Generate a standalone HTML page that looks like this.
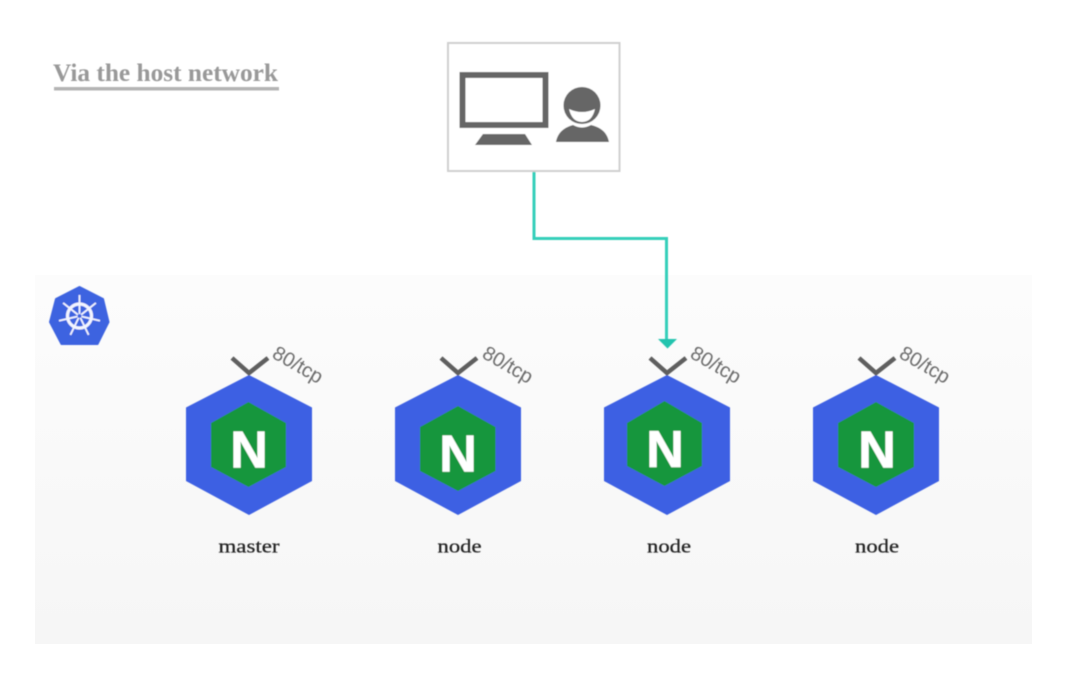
<!DOCTYPE html>
<html>
<head>
<meta charset="utf-8">
<style>
html,body{margin:0;padding:0;background:#fff;width:1080px;height:675px;overflow:hidden}
svg{display:block}
.n{font-family:"Liberation Sans",sans-serif;font-weight:bold;font-size:52px;fill:#fff;stroke:#fff;stroke-width:.6px}
.p{font-family:"Liberation Sans",sans-serif;font-size:20px;fill:#6d6d6d}
.l{font-family:"Liberation Serif",serif;font-size:19px;fill:#222;stroke:#222;stroke-width:.25px}
</style>
</head>
<body>
<svg width="1080" height="675" viewBox="0 0 1080 675" xmlns="http://www.w3.org/2000/svg">
<defs>
<linearGradient id="bg" x1="0" y1="0" x2="0" y2="1">
<stop offset="0" stop-color="#fcfcfc"/>
<stop offset="1" stop-color="#f6f6f6"/>
</linearGradient>
<filter id="b" x="-5%" y="-5%" width="110%" height="110%"><feGaussianBlur stdDeviation="0.45"/></filter>
</defs>
<rect x="35" y="275" width="997" height="369" fill="url(#bg)"/>
<g filter="url(#b)">
<text x="53" y="81" font-family="'Liberation Serif',serif" font-size="25" fill="#999" font-weight="bold" textLength="225" lengthAdjust="spacingAndGlyphs">Via the host network</text>
<rect x="54" y="87" width="225" height="3.5" fill="#b4b4b4"/>

<rect x="448" y="43" width="171.500" height="128" fill="#fff" stroke="#cfcfcf" stroke-width="2"/>
<rect x="462.500" y="75" width="83" height="50" fill="#fff" stroke="#666" stroke-width="6"/>
<polygon points="483,134 525,134 532,145 475,145" fill="#666"/>
<circle cx="582" cy="105.500" r="18.500" fill="#666"/>
<path d="M569,109 Q582,115 595,109 Q592,122 582,122 Q572,122 569,109Z" fill="#fff"/>
<path d="M556,142 C558,131 566,127 573,125 Q582,130 591,125 C599,127 607,131 609,142Z" fill="#666"/>

<polyline points="534,172 534,238.500 666.500,238.500 666.500,340" fill="none" stroke="#35cfba" stroke-width="3"/>
<polygon points="658,339 677,339 667.500,348.500" fill="#20c4ae"/>

<polygon points="79.500,287 103,299 108.500,322 97.500,344 61.500,344 50,322 56,299" fill="#3d63e0" stroke="#3d63e0" stroke-width="2" stroke-linejoin="round"/>
<g stroke="#f3f5ff" fill="none">
<circle cx="79.500" cy="316" r="12" stroke-width="3.200"/>
<g stroke-width="1.800">
<line x1="79.500" y1="316" x2="79.500" y2="295"/>
<line x1="79.500" y1="316" x2="95.900" y2="302.900"/>
<line x1="79.500" y1="316" x2="100" y2="320.700"/>
<line x1="79.500" y1="316" x2="88.600" y2="334.900"/>
<line x1="79.500" y1="316" x2="70.400" y2="334.900"/>
<line x1="79.500" y1="316" x2="59" y2="320.700"/>
<line x1="79.500" y1="316" x2="63.100" y2="302.900"/>
</g>
</g>
<circle cx="79.500" cy="316" r="2" fill="#3d63e0"/>

<!-- node 1 -->
<polygon points="249,375 312,407.500 312,481 249,515 186,481 186,407.500" fill="#3d60e3"/>
<polygon points="248.500,402 286,423 286,467 248.500,487 211,467 211,423" fill="#18963e"/>
<polyline points="232,358 249,373 268,358" fill="none" stroke="#5f5f5f" stroke-width="4.500"/>
<text class="n" x="249" y="467.500" text-anchor="middle">N</text>
<text class="p" transform="translate(271,357) rotate(30)">80/tcp</text>
<text class="l" x="249" y="552.500" text-anchor="middle" textLength="61" lengthAdjust="spacingAndGlyphs">master</text>

<!-- node 2 -->
<polygon points="458,375 521,407.500 521,481 458,515 395,481 395,407.500" fill="#3d60e3"/>
<polygon points="458,406 495.500,427 495.500,471 458,491 420,471 420,427" fill="#18963e"/>
<polyline points="441,358 458,373 477,358" fill="none" stroke="#5f5f5f" stroke-width="4.500"/>
<text class="n" x="458" y="471.500" text-anchor="middle">N</text>
<text class="p" transform="translate(481,357) rotate(30)">80/tcp</text>
<text class="l" x="459.500" y="552.500" text-anchor="middle" textLength="44" lengthAdjust="spacingAndGlyphs">node</text>

<!-- node 3 -->
<polygon points="667,375 730,407.500 730,481 667,515 604,481 604,407.500" fill="#3d60e3"/>
<polygon points="664.500,401 702,423 702,466 664.500,486 627,466 627,423" fill="#18963e"/>
<polyline points="650,358 667,373 686,358" fill="none" stroke="#5f5f5f" stroke-width="4.500"/>
<text class="n" x="665" y="467" text-anchor="middle">N</text>
<text class="p" transform="translate(689,357) rotate(30)">80/tcp</text>
<text class="l" x="669" y="552.500" text-anchor="middle" textLength="44" lengthAdjust="spacingAndGlyphs">node</text>

<!-- node 4 -->
<polygon points="876,375 939,407.500 939,481 876,515 813,481 813,407.500" fill="#3d60e3"/>
<polygon points="876,402 914,423 914,467 876,487 838,467 838,423" fill="#18963e"/>
<polyline points="859,358 876,373 895,358" fill="none" stroke="#5f5f5f" stroke-width="4.500"/>
<text class="n" x="877" y="467.500" text-anchor="middle">N</text>
<text class="p" transform="translate(898,357) rotate(30)">80/tcp</text>
<text class="l" x="877" y="552.500" text-anchor="middle" textLength="44" lengthAdjust="spacingAndGlyphs">node</text>
</g>
</svg>
</body>
</html>
